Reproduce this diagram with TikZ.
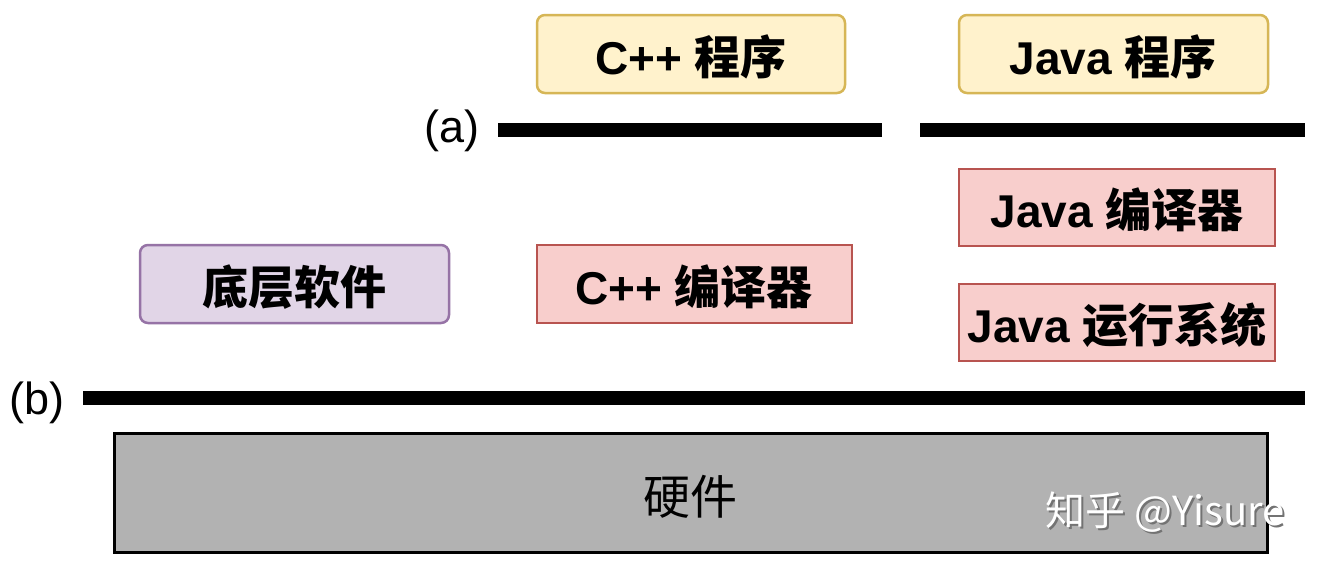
\documentclass[tikz,border=0pt]{standalone}
\usepackage{fontspec}
\setmainfont{Liberation Sans}
\newfontfamily\cjk{Noto Sans CJK SC}
\begin{document}
\begin{tikzpicture}[x=1pt,y=-1pt,
  lbl/.style={font=\fontsize{46}{52}\selectfont\bfseries, text=black, inner sep=0pt},
  yel/.style={draw={rgb,255:red,214;green,182;blue,86}, fill={rgb,255:red,255;green,242;blue,204}, line width=2.5pt, rounded corners=8pt},
  pur/.style={draw={rgb,255:red,150;green,115;blue,166}, fill={rgb,255:red,225;green,213;blue,231}, line width=2.5pt, rounded corners=8pt},
  red/.style={draw={rgb,255:red,184;green,84;blue,80}, fill={rgb,255:red,248;green,206;blue,204}, line width=2.5pt},
  bar/.style={line width=14pt},
  tag/.style={font=\fontsize{45}{50}\selectfont, inner sep=0pt}
]
\useasboundingbox[fill=white] (0,0) rectangle (1320,566);
% top boxes
\draw[yel] (537,15) rectangle (845,93);
\node[lbl] (cpp) at (691,57) {C++ {\cjk\bfseries 程序}};
\draw[yel] (959,15) rectangle (1268,93);
\node[lbl] (jp) at (1113,57) {Java {\cjk\bfseries 程序}};
% (a)
\node[tag] (a) at (452,131) {(a)};
\coordinate (a1) at (498,130);
\coordinate (a2) at (882,130);
\coordinate (a3) at (920,130);
\coordinate (a4) at (1305,130);
\draw[bar] (a1) -- (a2);
\draw[bar] (a3) -- (a4);
% middle
\draw[red] (959,169) rectangle (1275,246);
\node[lbl] (jc) at (1117,210) {Java {\cjk\bfseries 编译器}};
\draw[red] (959,284) rectangle (1275,361);
\node[lbl] (jr) at (1117,325) {Java {\cjk\bfseries 运行系统}};
\draw[red] (537,245) rectangle (852,323);
\node[lbl] (cc) at (694,287) {C++ {\cjk\bfseries 编译器}};
\draw[pur] (140,245) rectangle (449,323);
\node[lbl] (dc) at (294,287) {\cjk\bfseries 底层软件};
% (b)
\node[tag] (b) at (37,403) {(b)};
\coordinate (b1) at (83,398);
\coordinate (b2) at (1305,398);
\draw[bar] (b1) -- (b2);
% hardware
\draw[fill={rgb,255:red,178;green,178;blue,178}, draw=black, line width=3pt] (114,433) rectangle (1267,552);
\node[font=\fontsize{47}{52}\selectfont\cjk, inner sep=0pt] (hw) at (690,497) {硬件};
% watermark
\node[font=\fontsize{40}{46}\selectfont\cjk, text=black!55, inner sep=0pt] at (1167,514) {知乎 @Yisure};
\node[font=\fontsize{40}{46}\selectfont\cjk, text=white, inner sep=0pt] (wm) at (1165,512) {知乎 @Yisure};
\end{tikzpicture}
\end{document}
